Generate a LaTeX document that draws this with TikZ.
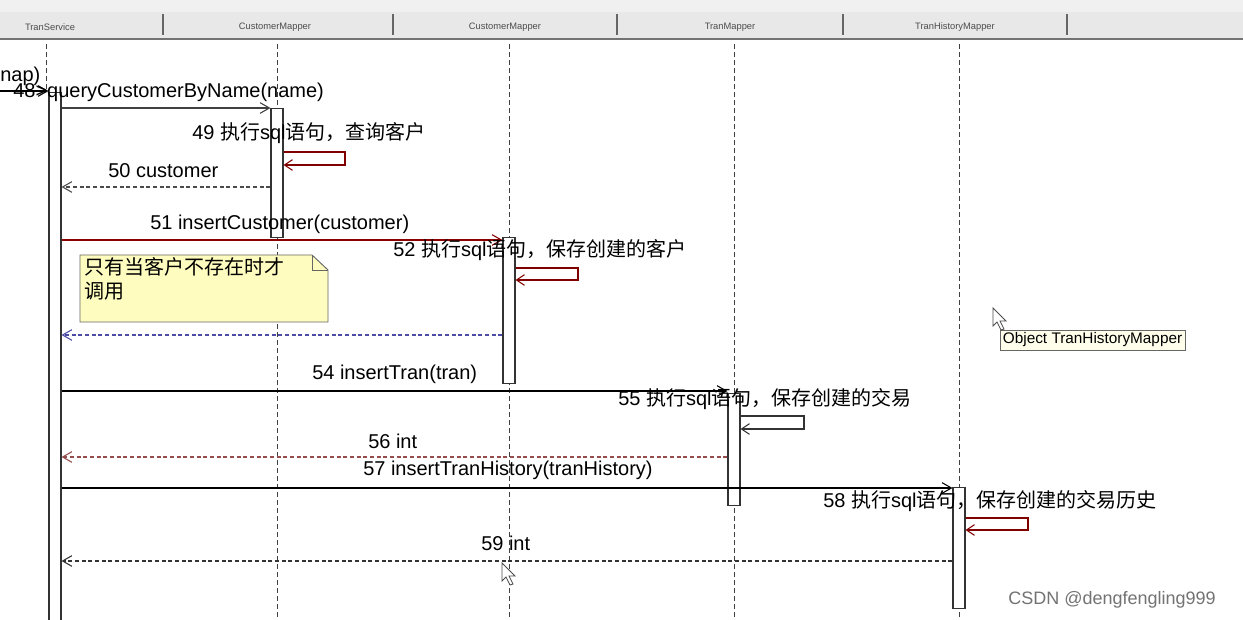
\documentclass[tikz,border=0pt]{standalone}
\usepackage{fontspec}
\setmainfont{Liberation Sans}
\newfontfamily\cjk{Noto Sans CJK SC}
\usetikzlibrary{arrows.meta}
\begin{document}
\begin{tikzpicture}[x=0.75pt,y=-0.75pt,
  act/.style={draw=black!80,fill=white,line width=0.8pt,minimum width=9pt,inner sep=0pt,anchor=north},
  life/.style={draw=black!75,dashed,dash pattern=on 4pt off 2pt,line width=0.7pt},
  msg/.style={line width=0.8pt,-{Straight Barb[length=7pt,width=8pt]}},
  ret/.style={line width=0.8pt,dash pattern=on 3pt off 2pt,-{Straight Barb[length=7pt,width=8pt]}},
  lbl/.style={font=\fontsize{15}{17}\selectfont,inner sep=0pt,anchor=west},
  hdr/.style={font=\fontsize{7}{8}\selectfont,text=black!70},
  selfc/.style={draw=red!50!black,line width=0.8pt,-{Straight Barb[length=6pt,width=8pt]}}]
\useasboundingbox (0,0) rectangle (1243,620);
\fill[white] (0,0) rectangle (1243,620);
% toolbar & header
\fill[black!6] (0,0) rectangle (1243,12);
\fill[black!9] (0,12) rectangle (1243,38);
\draw[black!55,line width=2pt] (0,39) -- (1243,39);
\foreach \x in {163,393,617,843,1067} \draw[black!60,line width=1pt] (\x,14) -- (\x,35);
\node[hdr] (h1) at (50,27) {TranService};
\node[hdr] (h2) at (275,27) {CustomerMapper};
\node[hdr] (h3) at (505,27) {CustomerMapper};
\node[hdr] (h4) at (730,27) {TranMapper};
\node[hdr] (h5) at (955,27) {TranHistoryMapper};
% lifelines
\coordinate (l1) at (46,44);
\draw[life] (l1) -- (46,92);
\draw[life] (277,44) -- (277,620);
\draw[life] (509,44) -- (509,620);
\draw[life] (734,44) -- (734,620);
\draw[life] (959,44) -- (959,620);
% activations
\node[act,minimum height=528*0.75pt] (a1) at (55,92) {};
\node[act,minimum height=129*0.75pt] (a2) at (277,108) {};
\node[act,minimum height=146*0.75pt] (a3) at (509,237) {};
\node[act,minimum height=112*0.75pt] (a4) at (734,393) {};
\node[act,minimum height=121*0.75pt] (a5) at (959,487) {};
% incoming
\node[lbl] (t47) at (0,76) {nap)};
\coordinate (in) at (0,91);
\draw[msg] (in) -- (a1.west |- 0,91);
\node[lbl] (t48) at (13,92) {48>queryCustomerByName(name)};
% 48
\draw[msg,black!75] (a1.east |- 0,108) -- (a2.west |- 0,108);
% 49
\node[lbl] (t49) at (192,133) {49 {\cjk 执行}sql{\cjk 语句，查询客户}};
\draw[selfc] (a2.east |- 0,152) -- (345,152) -- (345,165) -- (a2.east |- 0,165);
% 50
\node[lbl] (t50) at (108,171) {50 customer};
\draw[ret,black!70] (a2.west |- 0,187) -- (a1.east |- 0,187);
% 51
\node[lbl] (t51) at (150,224) {51 insertCustomer(customer)};
\draw[msg,red!55!black] (a1.east |- 0,240) -- (a3.west |- 0,240);
% 52
\node[lbl] (t52) at (393,250) {52 {\cjk 执行}sql{\cjk 语句，保存创建的客户}};
\draw[selfc] (a3.east |- 0,268) -- (578,268) -- (578,280) -- (a3.east |- 0,280);
% note
\fill[yellow!25!white] (80,255) -- (312,255) -- (328,270) -- (328,322) -- (80,322) -- cycle;
\draw[black!60,line width=0.7pt] (80,255) -- (312,255) -- (328,270) -- (328,322) -- (80,322) -- cycle;
\draw[black!60,line width=0.7pt] (312,255) -- (312,270) -- (328,270);
\node[font=\cjk\fontsize{15}{18}\selectfont,align=left,anchor=north west,inner sep=0pt] (note) at (84,257) {只有当客户不存在时才\\调用};
% 53 return
\draw[ret,blue!50!black!70] (a3.west |- 0,335) -- (a1.east |- 0,335);
% 54
\node[lbl] (t54) at (312,374) {54 insertTran(tran)};
\draw[msg,black] (a1.east |- 0,391) -- (a4.west |- 0,391);
% 55
\node[lbl] (t55) at (618,399) {55 {\cjk 执行}sql{\cjk 语句，保存创建的交易}};
\draw[selfc,black!80] (a4.east |- 0,416) -- (804,416) -- (804,429) -- (a4.east |- 0,429);
% 56
\node[lbl] (t56) at (368,441) {56 int};
\draw[ret,red!40!black!70] (a4.west |- 0,457) -- (a1.east |- 0,457);
% 57
\node[lbl] (t57) at (363,470) {57 insertTranHistory(tranHistory)};
\draw[msg,black] (a1.east |- 0,488) -- (a5.west |- 0,488);
% 58
\node[lbl] (t58) at (823,501) {58 {\cjk 执行}sql{\cjk 语句，保存创建的交易历史}};
\draw[selfc] (a5.east |- 0,518) -- (1028,518) -- (1028,530) -- (a5.east |- 0,530);
% 59
\node[lbl] (t59) at (481,543) {59 int};
\draw[ret,black!80] (a5.west |- 0,561) -- (a1.east |- 0,561);
% tooltip
\node[draw=black!60,fill=yellow!8,font=\fontsize{11.5}{12}\selectfont,inner sep=2pt,anchor=west] (tip) at (1000,340) {Object TranHistoryMapper};
% cursors
\draw[black!70,fill=white,line width=0.6pt] (993,308) -- (993,326) -- (997,322) -- (1001,330) -- (1004,329) -- (1000,321) -- (1006,321) -- cycle;
\draw[black!70,fill=white,line width=0.6pt] (502,563) -- (502,581) -- (506,577) -- (510,585) -- (513,584) -- (509,576) -- (515,576) -- cycle;
% watermark
\node[lbl,text=black!55,font=\fontsize{13.5}{15}\selectfont] (wm) at (1008,600) {CSDN @dengfengling999};
\end{tikzpicture}
\end{document}
